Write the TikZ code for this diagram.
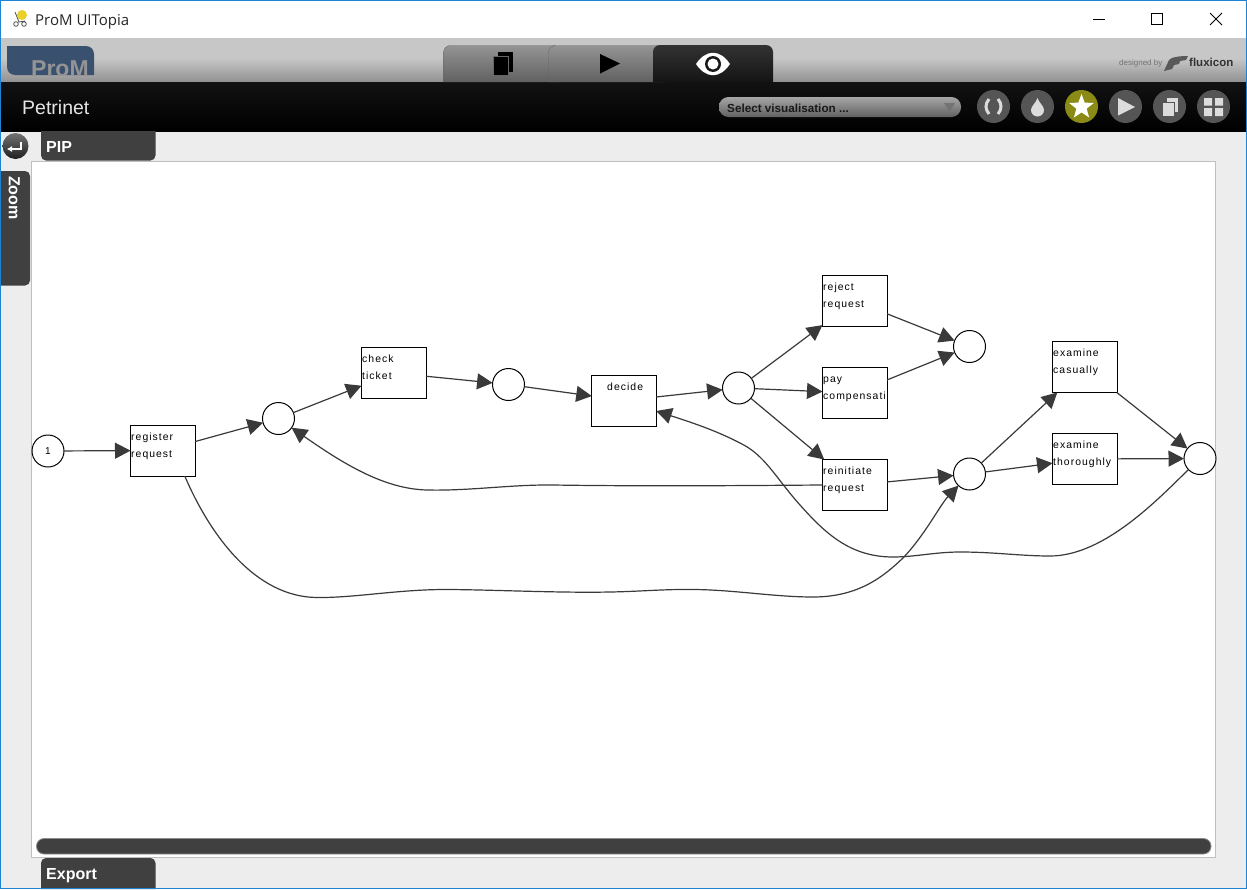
\documentclass[tikz,border=0pt]{standalone}
\usepackage{fontspec}
\setmainfont{Liberation Sans}
\newfontfamily\titlefont{Open Sans}
\usetikzlibrary{arrows.meta,shapes.geometric}
\definecolor{edgec}{HTML}{3A3A3A}
\definecolor{tabc}{HTML}{404040}
\definecolor{winblue}{HTML}{1A85D8}
\definecolor{btnc}{HTML}{555555}
\definecolor{btnl}{HTML}{DCDCDC}
\definecolor{logoc}{HTML}{3A506F}
\definecolor{starc}{HTML}{8A8A14}
\tikzset{
  x=1pt,y=-1pt,
  place/.style={circle,draw=black,fill=white,line width=1pt,minimum size=32pt,inner sep=0pt,outer sep=0pt},
  trans/.style={rectangle,draw=black,fill=white,line width=1pt,minimum width=64.5pt,minimum height=51pt,inner sep=0pt,outer sep=0pt},
  lab/.style={inner sep=0pt,anchor=base west,font=\fontsize{10.4}{12}\selectfont\addfontfeature{LetterSpace=10}},
  arc/.style={draw=edgec,line width=1.2pt,-{Triangle[length=15.5pt,width=16pt,fill=edgec]}},
  tab/.style={fill=tabc,draw=none},
  tabtext/.style={text=white,font=\fontsize{16}{18}\selectfont\bfseries,inner sep=0pt},
  toolbtn/.style={circle,fill=btnc,minimum size=33pt,inner sep=0pt},
  glyph/.style={fill=btnl,draw=none}
}
\newcommand{\transbox}[5]{%
  \node[trans] (#1) at (#2+32.25,#3+25.5) {};
  \begin{scope}
    \clip (#2,#3) rectangle (#2+64.5,#3+51);
    \node[lab] (#1a) at (#2+.5,#3+15) {#4};
    \node[lab] (#1b) at (#2+.5,#3+32) {#5};
  \end{scope}}
\begin{document}
\begin{tikzpicture}
\useasboundingbox (0,0) rectangle (1247,889);
% window
\fill[white] (0,0) rectangle (1247,38);
\fill[black!22] (0,38) rectangle (1247,58);
\shade[top color=black!22,bottom color=black!43] (0,58) rectangle (1247,82);
\fill[black!7] (0,131) rectangle (1247,889);
\shade[top color=black!93,bottom color=black] (0,82) rectangle (1247,131);
% title bar
\node[anchor=base west,inner sep=0pt,font=\titlefont\fontsize{15}{17}\selectfont,text=black!85] (title) at (35,25) {ProM UITopia};
\fill[yellow!65!brown] (22,15) circle (5);
\draw[black!70,line width=.8pt] (16,24) circle (2.3) (24,24) circle (2.3) (15,12)--(19,22)--(25,21);
% window buttons
\draw[black,line width=1pt] (1093,19) -- (1105,19);
\draw[black,line width=1pt] (1151.5,13.5) rectangle (1162.5,24.5);
\draw[black,line width=.9pt] (1210,13) -- (1222,25) (1222,13) -- (1210,25);
% logo
\begin{scope}
\clip (0,38) rectangle (94,75);
\fill[logoc,rounded corners=8pt] (7,46) -- (7,75) -- (94,75) -- (94,46) -- cycle;
\fill[logoc] (7,46) rectangle (15,54) (86,67) rectangle (94,75);
\node[anchor=base west,inner sep=0pt,text=black!42,font=\fontsize{23}{25}\selectfont\bfseries] (logo) at (31,76.5) {ProM};
\end{scope}
% tabs
\shade[top color=black!42,bottom color=black!62,draw=black!60,rounded corners=7pt] (443.5,82) -- (443.5,45.5) -- (560,45.5) -- (560,82);
\shade[top color=black!42,bottom color=black!62,draw=black!60,rounded corners=7pt] (548.5,82) -- (548.5,45.5) -- (665,45.5) -- (665,82);
\shade[top color=black!80,bottom color=black!92,rounded corners=7pt] (653,82) -- (653,45) -- (773,45) -- (773,82);
\fill[black] (498,52) rectangle (513,72);
\draw[black!60,fill=black] (493.5,56.5) rectangle (508.5,75);
\fill[black] (600,54) -- (620,63.5) -- (600,73.5) -- cycle;
\fill[white] (696,64) .. controls (706,49) and (720,49) .. (730,64) .. controls (720,79) and (706,79) .. (696,64) -- cycle;
\fill[black!90] (713,64) circle (8);
\fill[white] (713,64) circle (5.5);
% bar
\node[anchor=base west,inner sep=0pt,text=black!10,font=\fontsize{19.5}{22}\selectfont] (petri) at (22,114) {Petrinet};
\shade[top color=black!35,bottom color=black!62,rounded corners=9.5pt] (719,97) rectangle (961,117);
\node[anchor=base west,inner sep=0pt,text=black!90,font=\fontsize{11.7}{14}\selectfont\bfseries] (sel) at (727,112) {Select visualisation ...};
\fill[black!55] (944,103) -- (955,103) -- (949.5,112) -- cycle;
\node[toolbtn] (b1) at (993.5,106.5) {};
\node[toolbtn] (b2) at (1037.5,106.5) {};
\node[toolbtn,fill=starc] (b3) at (1081.5,106.5) {};
\node[toolbtn] (b4) at (1125.5,106.5) {};
\node[toolbtn] (b5) at (1169.5,106.5) {};
\node[toolbtn] (b6) at (1213.5,106.5) {};
\draw[btnl,line width=3pt] (989,99) .. controls (985,104) and (985,109) .. (989,114);
\draw[btnl,line width=3pt] (998,99) .. controls (1002,104) and (1002,109) .. (998,114);
\fill[glyph] (1037.5,98) .. controls (1039,103) and (1044,106) .. (1044,110) arc[start angle=0,end angle=180,radius=6.5] .. controls (1031,106) and (1036,103) .. (1037.5,98) -- cycle;
\node[star,star points=5,star point ratio=2.4,fill=white,minimum size=26pt,inner sep=0pt] (starg) at (1081.5,107) {};
\fill[glyph] (1118,98) -- (1135,107) -- (1118,115.5) -- cycle;
\fill[glyph] (1167,98) rectangle (1178,112);
\draw[btnc,fill=btnl,line width=1pt] (1162,102) rectangle (1174,116);
\fill[glyph] (1204,98) rectangle (1212,105.5) (1215,98) rectangle (1223,105.5) (1204,108) rectangle (1212,116) (1215,108) rectangle (1223,116);
% fluxicon
\node[anchor=base west,inner sep=0pt,text=black!55,font=\fontsize{8}{10}\selectfont] (des) at (1119,65) {designed by};
\fill[black!65] (1164,71) -- (1169,60) .. controls (1171,57) and (1180,56) .. (1188,56) -- (1186,60) -- (1180,61) -- (1179,64) -- (1174,65) -- (1172,69) -- cycle;
\node[anchor=base west,inner sep=0pt,text=black!80,font=\fontsize{11.5}{13}\selectfont\bfseries] (flux) at (1189,66) {fluxicon};
% canvas
\draw[black!25,fill=white,line width=1pt] (31.5,161.5) rectangle (1215.5,857.5);
% side tabs
\path[tab,rounded corners=5pt] (41,131) -- (41,160.5) -- (155.5,160.5) -- (155.5,131);
\node[anchor=base west,tabtext] (pip) at (46,152) {PIP};
\shade[top color=black!55,bottom color=black!88] (15.5,146) circle (13);
\draw[white,line width=1.5pt,-{Latex[length=5pt,width=6pt]}] (21,142) -- (21,149) -- (7,149);
\path[tab,rounded corners=5pt] (1,171) -- (30,171) -- (30,285.5) -- (1,285.5);
\node[tabtext,rotate=-90,anchor=base west] (zoom) at (9,176) {Zoom};
\path[tab,rounded corners=5pt] (41,889) -- (41,858) -- (155.5,858) -- (155.5,889);
\node[anchor=base west,tabtext] (export) at (46,879) {Export};
% scrollbar
\draw[black!45,fill=tabc,rounded corners=7.5pt,line width=.8pt] (36.5,838.5) rectangle (1211,854);
% places
\node[place] (p0) at (48,451) {\fontsize{10}{12}\selectfont 1};
\node[place] (p1) at (278.5,418.5) {};
\node[place] (p2) at (508.5,384.5) {};
\node[place] (p3) at (738.5,388) {};
\node[place] (p4) at (969.5,346.5) {};
\node[place] (p5) at (969.5,474) {};
\node[place] (p6) at (1200,458.5) {};
% transitions
\transbox{reg}{130.5}{425}{register}{request}
\transbox{chk}{361.5}{347.5}{check}{ticket}
\node[trans] (dec) at (624,400.5) {};
\node[lab] (deca) at (607,390) {decide};
\transbox{rej}{822.5}{275.5}{reject}{request}
\transbox{pay}{822.5}{367.5}{pay}{compensation}
\transbox{rei}{822.5}{459.5}{reinitiate}{request}
\transbox{cas}{1052.5}{341.5}{examine}{casually}
\transbox{tho}{1052.5}{433.5}{examine}{thoroughly}
% straight connectors
\draw[arc] (p0) -- (reg);
\draw[arc] (reg) -- (p1);
\draw[arc] (p1) -- (chk);
\draw[arc] (chk) -- (p2);
\draw[arc] (p2) -- (dec);
\draw[arc] (dec) -- (p3);
\draw[arc] (p3) -- (rej);
\draw[arc] (p3) -- (pay);
\draw[arc] (p3) -- (rei);
\draw[arc] (rej) -- (p4);
\draw[arc] (pay) -- (p4);
\draw[arc] (rei) -- (p5);
\draw[arc] (p5) -- (cas);
\draw[arc] (p5) -- (tho);
\draw[arc] (cas) -- (p6);
\draw[arc] (tho) -- (p6);
% curved connectors
\draw[arc] (rei.west) .. controls (750,485.5) and (650,486.5) .. (553,485) .. controls (510,484.5) and (470,491) .. (427,490) .. controls (385,489) and (345,465) .. (p1);
\draw[arc] ([xshift=22pt]reg.south) .. controls (210,535) and (255,597) .. (317,597.5) .. controls (355,598) and (400,589) .. (450,589.5) .. controls (500,590) and (560,593) .. (610,592) .. controls (640,591.5) and (665,589) .. (695,589.5) .. controls (735,590) and (775,597) .. (813,597) .. controls (860,597) and (885,575) .. (903,558) .. controls (925,535) and (940,505) .. (p5);
\draw[arc] (p6) .. controls (1160,497) and (1105,556) .. (1050,556) .. controls (1020,556) and (995,552) .. (960,552) .. controls (935,552) and (915,557) .. (893,557) .. controls (850,557) and (825,533) .. (800,505) .. controls (775,477) and (765,455) .. (740,443) .. controls (715,430) and (690,422) .. (dec);
% window frame
\draw[winblue,line width=1.4pt] (.7,.7) rectangle (1246.3,888.3);
\end{tikzpicture}
\end{document}
